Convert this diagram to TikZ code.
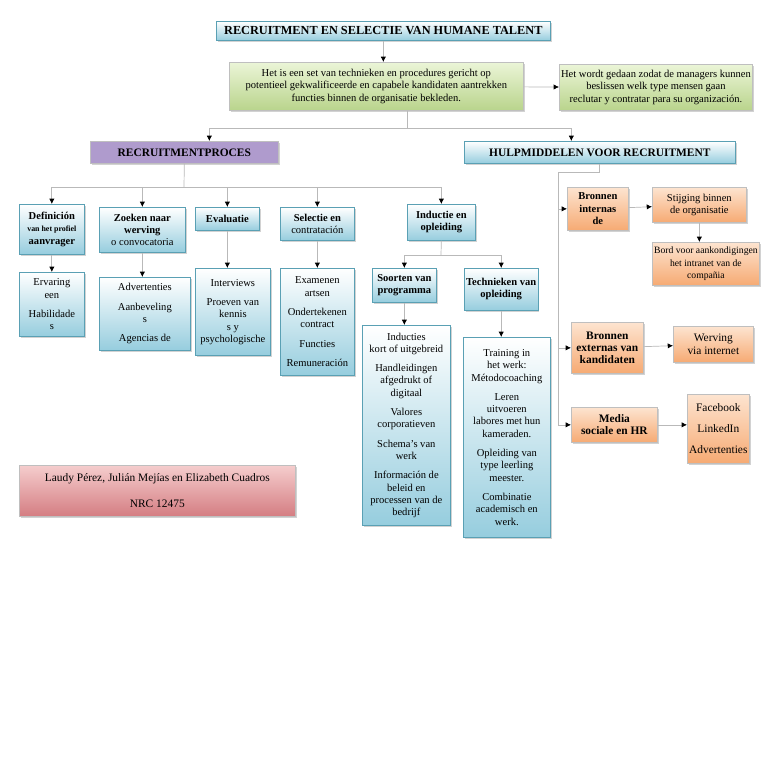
\documentclass[tikz,border=0pt]{standalone}
\usepackage{fontspec}
\setmainfont{Liberation Serif}
\usetikzlibrary{arrows.meta,shadows,positioning}

\begin{document}
\begin{tikzpicture}[
    x=0.02cm, y=-0.02cm,
    every node/.style={font=\fontsize{6}{7}\selectfont, align=center, inner sep=1pt, anchor=north west},
    bx/.style={rectangle, draw=gray!50, drop shadow={shadow xshift=0.8pt, shadow yshift=-0.8pt, fill=gray!70}},
    blu/.style={bx, top color=white, bottom color={rgb,255:red,150;green,205;blue,222}, draw={rgb,255:red,90;green,160;blue,180}},
    ora/.style={bx, top color={rgb,255:red,253;green,228;blue,208}, bottom color={rgb,255:red,246;green,170;blue,115}},
    grn/.style={bx, top color={rgb,255:red,235;green,245;blue,215}, bottom color={rgb,255:red,185;green,212;blue,140}},
    pur/.style={bx, fill={rgb,255:red,175;green,155;blue,205}},
    pnk/.style={bx, top color={rgb,255:red,245;green,205;blue,205}, bottom color={rgb,255:red,212;green,125;blue,130}},
    line/.style={draw=gray!55, thin},
    arr/.style={line, -{Latex[length=3pt,width=3pt,black]}}
]
\useasboundingbox (0,0) rectangle (768,762);

% top
\node[blu, minimum width=6.68cm, minimum height=0.38cm] (title) at (216,21) {\fontsize{7}{8}\selectfont\bfseries RECRUITMENT EN SELECTIE VAN HUMANE TALENT};
\node[grn, minimum width=5.88cm, minimum height=0.96cm] (def) at (229,62) {Het is een set van technieken en procedures gericht op\\ potentieel gekwalificeerde en capabele kandidaten aantrekken\\ functies binnen de organisatie bekleden.};
\node[grn, minimum width=3.86cm, minimum height=0.92cm] (doel) at (559,64) {Het wordt gedaan zodat de managers kunnen\\ beslissen welk type mensen gaan\\ reclutar y contratar para su organización.};
\node[pur, minimum width=3.76cm, minimum height=0.44cm] (rproc) at (90,141) {\fontsize{6.5}{7.5}\selectfont\bfseries RECRUITMENTPROCES};
\node[blu, minimum width=5.42cm, minimum height=0.44cm] (hulp) at (464,141) {\fontsize{6.5}{7.5}\selectfont\bfseries HULPMIDDELEN VOOR RECRUITMENT};

% recruitmentproces
\node[blu, minimum width=1.3cm, minimum height=1cm] (defn) at (19,204) {\bfseries Definición\\ {\fontsize{4.5}{5.5}\selectfont\bfseries van het profiel}\\ \bfseries aanvrager};
\node[blu, minimum width=1.72cm, minimum height=0.9cm] (zoek) at (99,207) {\bfseries Zoeken naar\\ \bfseries werving\\ o convocatoria};
\node[blu, minimum width=1.28cm, minimum height=0.46cm] (eval) at (195,207) {\bfseries Evaluatie};
\node[blu, minimum width=1.48cm, minimum height=0.66cm] (sel) at (280,207) {\bfseries Selectie en\\ contratación};
\node[blu, minimum width=1.36cm, minimum height=0.72cm] (ind) at (407,204) {\bfseries Inductie en\\ \bfseries opleiding};
\node[blu, minimum width=1.3cm, minimum height=1.28cm] (erv) at (19,272) {Ervaring\\ een\\[4pt] Habilidade\\ s};
\node[blu, minimum width=1.82cm, minimum height=1.46cm] (adv) at (99,277) {Advertenties\\[4pt] Aanbeveling\\ s\\[4pt] Agencias de};
\node[blu, minimum width=1.5cm, minimum height=1.74cm] (intv) at (195,268) {Interviews\\[4pt] Proeven van\\ kennis\\ s y\\ psychologische};
\node[blu, minimum width=1.48cm, minimum height=2.14cm] (exam) at (280,268) {Examenen\\ artsen\\[4pt] Ondertekenen\\ contract\\[4pt] Functies\\[4pt] Remuneración};
\node[blu, minimum width=1.28cm, minimum height=0.68cm] (soort) at (372,268) {\bfseries Soorten van\\ \bfseries programma};
\node[blu, minimum width=1.42cm, minimum height=0.84cm] (tech) at (464,268) {\bfseries Technieken van\\ \bfseries opleiding};
\node[blu, minimum width=1.76cm, minimum height=4cm] (indu) at (362,325) {Inducties\\ kort of uitgebreid\\[4pt] Handleidingen\\ afgedrukt of\\ digitaal\\[4pt] Valores\\ corporatieven\\[4pt] Schema's van\\ werk\\[4pt] Información de\\ beleid en\\ processen van de\\ bedrijf};
\node[blu, minimum width=1.74cm, minimum height=4cm] (train) at (463,337) {Training in\\ het werk:\\ Métodocoaching\\[4pt] Leren\\ uitvoeren\\ labores met hun\\ kameraden.\\[4pt] Opleiding van\\ type leerling\\ meester.\\[4pt] Combinatie\\ academisch en\\ werk.};

% hulpmiddelen
\node[ora, minimum width=1.22cm, minimum height=0.86cm] (bint) at (567,187) {\bfseries Bronnen\\ \bfseries internas\\ \bfseries de};
\node[ora, minimum width=1.88cm, minimum height=0.7cm] (stij) at (652,187) {Stijging binnen\\ de organisatie};
\node[ora, minimum width=2.02cm, minimum height=0.86cm] (bord) at (652,242) {\fontsize{5.5}{6.5}\selectfont Bord voor aankondigingen\\ \fontsize{5.5}{6.5}\selectfont het intranet van de\\ \fontsize{5.5}{6.5}\selectfont compañia};
\node[ora, minimum width=1.44cm, minimum height=1.02cm] (bext) at (571,322) {\fontsize{6.5}{7.5}\selectfont\bfseries Bronnen\\ \fontsize{6.5}{7.5}\selectfont\bfseries externas van\\ \fontsize{6.5}{7.5}\selectfont\bfseries kandidaten};
\node[ora, minimum width=1.6cm, minimum height=0.72cm] (werv) at (673,326) {\fontsize{6.5}{7.5}\selectfont Werving\\ \fontsize{6.5}{7.5}\selectfont via internet};
\node[ora, minimum width=1.72cm, minimum height=0.7cm] (media) at (571,407) {\fontsize{6.5}{7.5}\selectfont\bfseries Media\\ \fontsize{6.5}{7.5}\selectfont\bfseries sociale en HR};
\node[ora, minimum width=1.2cm, minimum height=1.38cm] (fb) at (687,394) {\fontsize{6.5}{7.5}\selectfont Facebook\\[5pt] \fontsize{6.5}{7.5}\selectfont LinkedIn\\[5pt] \fontsize{6.5}{7.5}\selectfont Advertenties};

\node[pnk, minimum width=5.52cm, minimum height=1.02cm] (names) at (19,465) {\fontsize{6.5}{7.5}\selectfont Laudy Pérez, Julián Mejías en Elizabeth Cuadros\\[8pt] \fontsize{6.5}{7.5}\selectfont NRC 12475};

% connectors
\coordinate (b1) at (407,128);
\coordinate (b2) at (184,187);
\coordinate (b3) at (441,255);
\coordinate (b4) at (558,172);
\draw[arr] (title.south) -- (title.south |- def.north);
\draw[arr] (def) -- (doel);
\draw[line] (def.south -| b1) -- (b1);
\draw[arr] (b1) -| ([xshift=0.5cm]rproc.north);
\draw[arr] (b1) -| ([xshift=-0.57cm]hulp.north);
\draw[line] (rproc.south) -- (b2);
\foreach \n in {defn,zoek,eval,sel,ind}
    \draw[arr] (b2) -| (\n.north);
\draw[arr] (defn.south) -- (defn.south |- erv.north);
\draw[arr] (zoek.south) -- (zoek.south |- adv.north);
\draw[arr] (eval.south) -- (eval.south |- intv.north);
\draw[arr] (sel.south) -- (sel.south |- exam.north);
\draw[line] (ind.south) -- (b3);
\draw[arr] (b3) -| (soort.north);
\draw[arr] (b3) -| (tech.north);
\draw[arr] (soort.south) -- (soort.south |- indu.north);
\draw[arr] (tech.south) -- (tech.south |- train.north);
\draw[line] (hulp.south) |- (b4);
\foreach \n in {bint,bext,media}
    \draw[arr] (b4) |- (\n.west);
\draw[arr] (bint) -- (stij);
\draw[arr] (stij.south) -- (stij.south |- bord.north);
\draw[arr] (bext) -- (werv);
\draw[arr] (media) -- (media.east -| fb.west);
\end{tikzpicture}
\end{document}
